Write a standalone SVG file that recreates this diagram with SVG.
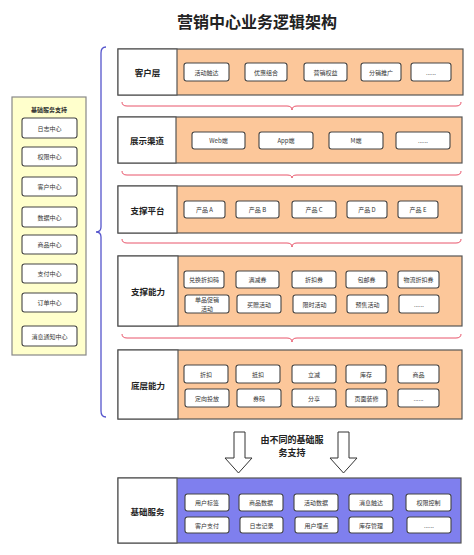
<svg xmlns="http://www.w3.org/2000/svg" width="474" height="555" viewBox="0 0 474 555">
<style>
.bg{fill:#ffffff}
.layer{fill:#fcc79a;stroke:#555;stroke-width:1.2}
.purple{fill:#7f7fee;stroke:#555;stroke-width:1.2}
.cell{fill:#fff;stroke:#555;stroke-width:1.2}
.item{fill:#fff;stroke:#444;stroke-width:1.1}
.it{font-family:"Noto Sans CJK SC","Noto Sans",sans-serif;font-size:6px;fill:#333;text-anchor:middle;dominant-baseline:central}
.lbl{font-family:"Noto Sans CJK SC","Noto Sans",sans-serif;font-size:8.5px;font-weight:bold;fill:#222;text-anchor:middle;dominant-baseline:central}
.title{font-family:"Noto Sans CJK SC","Noto Sans",sans-serif;font-size:16px;font-weight:bold;fill:#222;text-anchor:middle}
.note{font-family:"Noto Sans CJK SC","Noto Sans",sans-serif;font-size:9px;font-weight:bold;fill:#222;text-anchor:middle}
.panel{fill:#ffffcc;stroke:#888;stroke-width:1.2}
.brace{fill:none;stroke:#e8546a;stroke-width:1}
.bbrace{fill:none;stroke:#5555cc;stroke-width:1.3}
.arrow{fill:#fff;stroke:#333;stroke-width:1}
</style>
<rect class="bg" x="0" y="0" width="474" height="555"/>
<text class="title" x="257" y="28">营销中心业务逻辑架构</text>

<g id="support-panel">
<rect class="panel" x="12" y="97" width="74" height="258"/>
<text class="it" x="49" y="109" style="font-weight:bold">基础服务支持</text>
<rect class="item" x="22" y="118" width="55" height="20" rx="2.5"/><text class="it" x="49.5" y="128">日志中心</text>
<rect class="item" x="22" y="147" width="55" height="19" rx="2.5"/><text class="it" x="49.5" y="156.5">权限中心</text>
<rect class="item" x="22" y="177" width="55" height="19" rx="2.5"/><text class="it" x="49.5" y="186.5">客户中心</text>
<rect class="item" x="22" y="207" width="55" height="20" rx="2.5"/><text class="it" x="49.5" y="217">数据中心</text>
<rect class="item" x="22" y="235" width="55" height="19" rx="2.5"/><text class="it" x="49.5" y="244.5">商品中心</text>
<rect class="item" x="22" y="264" width="55" height="19" rx="2.5"/><text class="it" x="49.5" y="273.5">支付中心</text>
<rect class="item" x="22" y="293" width="55" height="19" rx="2.5"/><text class="it" x="49.5" y="302.5">订单中心</text>
<rect class="item" x="22" y="326" width="55" height="20" rx="2.5"/><text class="it" x="49.5" y="336">消息通知中心</text>
</g>

<g id="customer-layer">
<rect class="layer" x="118" y="49" width="345" height="46"/>
<rect class="cell" x="118" y="49" width="59" height="46"/>
<text class="lbl" x="147.5" y="72">客户层</text>
<rect class="item" x="184" y="63" width="45" height="18" rx="2.5"/><text class="it" x="206.5" y="72">活动触达</text>
<rect class="item" x="245" y="63" width="42" height="18" rx="2.5"/><text class="it" x="266" y="72">优惠组合</text>
<rect class="item" x="304" y="63" width="43" height="18" rx="2.5"/><text class="it" x="325.5" y="72">营销权益</text>
<rect class="item" x="361" y="63" width="40" height="18" rx="2.5"/><text class="it" x="381" y="72">分销推广</text>
<rect class="item" x="411" y="63" width="40" height="18" rx="2.5"/><text class="it" x="431" y="72">......</text>
</g>

<g id="display-channel">
<rect class="layer" x="118" y="117" width="344" height="46"/>
<rect class="cell" x="118" y="117" width="58" height="46"/>
<text class="lbl" x="147" y="140">展示渠道</text>
<rect class="item" x="192" y="132" width="53" height="17" rx="2.5"/><text class="it" x="218.5" y="140.5">Web端</text>
<rect class="item" x="259" y="132" width="54" height="17" rx="2.5"/><text class="it" x="286" y="140.5">App端</text>
<rect class="item" x="329" y="132" width="54" height="17" rx="2.5"/><text class="it" x="356" y="140.5">M端</text>
<rect class="item" x="396" y="132" width="54" height="17" rx="2.5"/><text class="it" x="423" y="140.5">......</text>
</g>

<g id="support-platform">
<rect class="layer" x="118" y="186" width="344" height="47"/>
<rect class="cell" x="118" y="186" width="59" height="47"/>
<text class="lbl" x="147.5" y="209.5">支撑平台</text>
<rect class="item" x="184" y="201" width="41" height="17" rx="2.5"/><text class="it" x="204.5" y="209.5">产品 A</text>
<rect class="item" x="236" y="201" width="43" height="17" rx="2.5"/><text class="it" x="257.5" y="209.5">产品 B</text>
<rect class="item" x="292" y="201" width="44" height="17" rx="2.5"/><text class="it" x="314" y="209.5">产品 C</text>
<rect class="item" x="347" y="201" width="40" height="17" rx="2.5"/><text class="it" x="367" y="209.5">产品 D</text>
<rect class="item" x="398" y="201" width="40" height="17" rx="2.5"/><text class="it" x="418" y="209.5">产品 E</text>
</g>

<g id="support-capability">
<rect class="layer" x="118" y="256" width="344" height="70"/>
<rect class="cell" x="118" y="256" width="60" height="70"/>
<text class="lbl" x="148" y="291">支撑能力</text>
<rect class="item" x="184" y="271" width="40" height="17" rx="2.5"/><text class="it" x="204" y="279.5">兑换折扣码</text>
<rect class="item" x="236" y="271" width="43" height="17" rx="2.5"/><text class="it" x="257.5" y="279.5">满减券</text>
<rect class="item" x="292" y="271" width="44" height="17" rx="2.5"/><text class="it" x="314" y="279.5">折扣券</text>
<rect class="item" x="346" y="271" width="41" height="17" rx="2.5"/><text class="it" x="366.5" y="279.5">包邮券</text>
<rect class="item" x="398" y="271" width="41" height="17" rx="2.5"/><text class="it" x="418.5" y="279.5">物流折扣券</text>
<rect class="item" x="185" y="295" width="44" height="18" rx="2.5"/><text class="it" x="207" y="299.8">单品促销</text><text class="it" x="207" y="308.2">活动</text>
<rect class="item" x="237" y="295" width="44" height="18" rx="2.5"/><text class="it" x="259" y="304">买赠活动</text>
<rect class="item" x="293" y="295" width="43" height="18" rx="2.5"/><text class="it" x="314.5" y="304">限时活动</text>
<rect class="item" x="347" y="295" width="41" height="18" rx="2.5"/><text class="it" x="367.5" y="304">预售活动</text>
<rect class="item" x="399" y="295" width="40" height="18" rx="2.5"/><text class="it" x="419" y="304">......</text>
</g>

<g id="bottom-capability">
<rect class="layer" x="118" y="350" width="344" height="69"/>
<rect class="cell" x="118" y="350" width="60" height="69"/>
<text class="lbl" x="148" y="385">底层能力</text>
<rect class="item" x="184" y="365" width="44" height="18" rx="2.5"/><text class="it" x="206" y="374">折扣</text>
<rect class="item" x="236" y="365" width="44" height="18" rx="2.5"/><text class="it" x="258" y="374">抵扣</text>
<rect class="item" x="292" y="365" width="44" height="18" rx="2.5"/><text class="it" x="314" y="374">立减</text>
<rect class="item" x="346" y="365" width="40" height="18" rx="2.5"/><text class="it" x="366" y="374">库存</text>
<rect class="item" x="398" y="365" width="41" height="18" rx="2.5"/><text class="it" x="418.5" y="374">商品</text>
<rect class="item" x="185" y="389" width="44" height="18" rx="2.5"/><text class="it" x="207" y="398">定向投放</text>
<rect class="item" x="237" y="389" width="44" height="18" rx="2.5"/><text class="it" x="259" y="398">券码</text>
<rect class="item" x="292" y="389" width="44" height="18" rx="2.5"/><text class="it" x="314" y="398">分享</text>
<rect class="item" x="346" y="389" width="41" height="18" rx="2.5"/><text class="it" x="366.5" y="398">页面装修</text>
<rect class="item" x="398" y="389" width="41" height="18" rx="2.5"/><text class="it" x="418.5" y="398">......</text>
</g>

<g id="base-services">
<rect class="purple" x="118" y="478" width="343" height="65"/>
<rect class="cell" x="118" y="478" width="59" height="65"/>
<text class="lbl" x="147.5" y="510.5">基础服务</text>
<rect class="item" x="185" y="494" width="44" height="17" rx="2.5"/><text class="it" x="207" y="502.5">用户标签</text>
<rect class="item" x="239" y="494" width="44" height="17" rx="2.5"/><text class="it" x="261" y="502.5">商品数据</text>
<rect class="item" x="294" y="494" width="44" height="17" rx="2.5"/><text class="it" x="316" y="502.5">活动数据</text>
<rect class="item" x="349" y="494" width="44" height="17" rx="2.5"/><text class="it" x="371" y="502.5">消息触达</text>
<rect class="item" x="406" y="494" width="45" height="17" rx="2.5"/><text class="it" x="428.5" y="502.5">权限控制</text>
<rect class="item" x="185" y="517" width="44" height="16" rx="2.5"/><text class="it" x="207" y="525">客户支付</text>
<rect class="item" x="240" y="517" width="43" height="16" rx="2.5"/><text class="it" x="261.5" y="525">日志记录</text>
<rect class="item" x="295" y="517" width="43" height="16" rx="2.5"/><text class="it" x="316.5" y="525">用户埋点</text>
<rect class="item" x="349" y="517" width="44" height="16" rx="2.5"/><text class="it" x="371" y="525">库存管理</text>
<rect class="item" x="407" y="517" width="44" height="16" rx="2.5"/><text class="it" x="429" y="525">......</text>
</g>

<g id="connectors">
<path class="bbrace" d="M106,47 Q101,47 101,53 L101,227 Q101,232 96,232 Q101,232 101,237 L101,411 Q101,417 106,417"/>
<path class="brace" d="M122,102 Q122,106 127,106 L287,106 Q292,106 292,110 Q292,106 297,106 L456,106 Q461,106 461,102"/>
<path class="brace" d="M122,171 Q122,175 127,175 L287,175 Q292,175 292,178 Q292,175 297,175 L456,175 Q461,175 461,171"/>
<path class="brace" d="M122,239 Q122,243 127,243 L287,243 Q292,243 292,247 Q292,243 297,243 L456,243 Q461,243 461,239"/>
<path class="brace" d="M122,334 Q122,338 127,338 L287,338 Q292,338 292,342 Q292,338 297,338 L456,338 Q461,338 461,334"/>
<polygon class="arrow" points="234,432 245,432 245,458 252,458 238.5,473 225,458 234,458"/>
<polygon class="arrow" points="338,432 349,432 349,458 357,458 343.5,473 330,458 338,458"/>
</g>
<text class="note" x="292" y="443">由不同的基础服</text>
<text class="note" x="292" y="456">务支持</text>
</svg>
